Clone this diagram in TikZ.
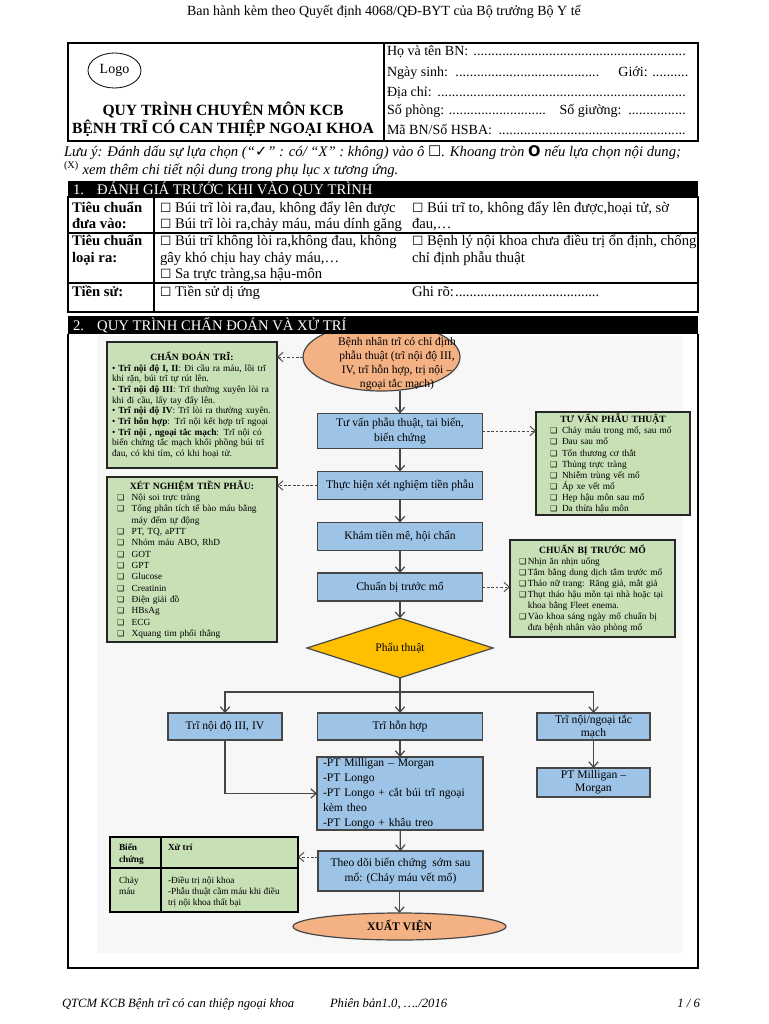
\documentclass[tikz,border=0pt]{standalone}
\usepackage{fontspec}
\setmainfont{Liberation Serif}
\newfontfamily\sym{DejaVu Sans}
\usetikzlibrary{shapes.geometric,arrows.meta}
\definecolor{fblue}{RGB}{157,195,230}
\definecolor{fgreen}{RGB}{199,224,182}
\definecolor{forange}{RGB}{244,177,131}
\definecolor{fgold}{RGB}{255,192,0}
\definecolor{lgray}{RGB}{70,70,70}
\newcommand{\fs}[2]{\fontsize{#1}{#2}\selectfont}
\newcommand{\cb}{{\sym\fontsize{6}{6}\selectfont ❑}}
\newcommand{\tb}{{\sym\fontsize{9.5}{9.5}\selectfont ☐}}
\newcommand{\dfill}{\leaders\hbox to 2.7pt{\hss.\hss}\hfill}
\newcommand{\ci}[1]{\makebox[#1][l]{\cb}}
\newcommand{\cn}[1]{\makebox[#1][l]{}}
\newcommand{\gtitle}[1]{\makebox[\hsize]{\bfseries #1}}
\begin{document}
\begin{tikzpicture}[x=0.75pt,y=-0.75pt,
  every node/.style={inner sep=0pt,outer sep=0pt},
  frame/.style={draw=black,line width=0.8pt},
  sz/.style n args={2}{minimum width=#1*0.75pt,minimum height=#2*0.75pt},
  flow/.style={draw=lgray,fill=fblue,line width=0.9pt,align=center,font=\fs{8.7}{11.2}},
  gbox/.style={draw=black!85,fill=fgreen,line width=1pt},
  conn/.style={draw=lgray,line width=0.9pt,-{Straight Barb[length=4pt,width=7pt]}},
  plain/.style={draw=lgray,line width=0.9pt},
  dconn/.style={draw=lgray,line width=0.7pt,dash pattern=on 2pt off 1.3pt,-{Straight Barb[length=4pt,width=7pt]}},
  txt/.style={anchor=base west,font=\fs{10.5}{12}},
  ttxt/.style={anchor=base west,font=\fs{11}{12}},
  btxt/.style={anchor=base west,font=\bfseries\fs{11}{12}},
  gtxt/.style={anchor=base west,font=\fs{7}{8}},
]
\useasboundingbox (0,0) rectangle (768,1024);
\fill[white] (0,0) rectangle (768,1024);

% ---------- top header ----------
\node[anchor=base,font=\fs{10.5}{12}] (topline) at (384,16) {Ban hành kèm theo Quyết định 4068/QĐ-BYT của Bộ trưởng Bộ Y tế};
\draw[frame] (68,43) rectangle (698,141);
\draw[frame] (384,43) -- (384,141);
\node[ellipse,draw,line width=0.6pt,sz={53}{35},font=\fs{10.5}{12}] (logo) at (114.5,70.5) {Logo};
\node[align=center,font=\bfseries\fs{11.7}{13.5}] (title) at (223,119) {QUY TRÌNH CHUYÊN MÔN KCB\\BỆNH TRĨ CÓ CAN THIỆP NGOẠI KHOA};
\node[txt] (hoten) at (387,56) {\hbox to 226pt{Họ và tên BN: \dfill}};
\node[txt] (ngaysinh) at (387,76) {\hbox to 226pt{Ngày sinh: \dfill\hspace{13pt}Giới: \hbox to 27pt{\dfill}}};
\node[txt] (diachi) at (387,96) {\hbox to 226pt{Địa chỉ: \dfill}};
\node[txt] (sophong) at (387,114) {\hbox to 226pt{Số phòng: \hbox to 74pt{\dfill}\hspace{9pt}Số giường: \dfill}};
\node[txt] (mabn) at (387,134) {\hbox to 226pt{Mã BN/Số HSBA: \dfill}};
\node[txt,font=\itshape\fs{11}{12}] (note1) at (64,156) {Lưu ý: Đánh dấu sự lựa chọn (“{\upshape\sym ✓}” : có/ “X” : không) vào ô {\upshape\sym ☐}. Khoang tròn {\upshape\sym\bfseries O} nếu lựa chọn nội dung;};
\node[txt,font=\itshape\fs{11}{12}] (note2) at (64,174) {\textsuperscript{\upshape(X)} xem thêm chi tiết nội dung trong phụ lục x tương ứng.};

% ---------- section 1 ----------
\node[fill=black,anchor=north west,sz={630}{16}] (sec1) at (68,181) {};
\node[anchor=west,text=white,font=\fs{11}{12}] (sec1t) at (73,189.5) {1.\hspace{0.9em}ĐÁNH GIÁ TRƯỚC KHI VÀO QUY TRÌNH};
\draw[frame] (68,197) rectangle (698,312);
\draw[frame] (68,233) -- (698,233);
\draw[frame] (68,283) -- (698,283);
\draw[frame] (154,197) -- (154,312);
\node[btxt] (r1a) at (72,212) {Tiêu chuẩn};
\node[btxt] (r1b) at (72,228) {đưa vào:};
\node[ttxt] (r1c) at (160,212) {\tb{} Búi trĩ lòi ra,đau, không đẩy lên được};
\node[ttxt] (r1d) at (160,228) {\tb{} Búi trĩ lòi ra,chảy máu, máu dính găng};
\node[ttxt] (r1e) at (412,212) {\tb{} Búi trĩ to, không đẩy lên được,hoại tử, sờ};
\node[ttxt] (r1f) at (412,228) {đau,…};
\node[btxt] (r2a) at (72,245) {Tiêu chuẩn};
\node[btxt] (r2b) at (72,262) {loại ra:};
\node[ttxt] (r2c) at (160,245) {\tb{} Búi trĩ không lòi ra,không đau, không};
\node[ttxt] (r2d) at (160,262) {gây khó chịu hay chảy máu,…};
\node[ttxt] (r2e) at (160,278) {\tb{} Sa trực tràng,sa hậu-môn};
\node[ttxt] (r2f) at (412,245) {\tb{} Bệnh lý nội khoa chưa điều trị ổn định, chống};
\node[ttxt] (r2g) at (412,262) {chỉ định phẫu thuật};
\node[btxt] (r3a) at (72,296) {Tiền sử:};
\node[ttxt] (r3b) at (160,296) {\tb{} Tiền sử dị ứng};
\node[ttxt] (r3c) at (412,296) {\hbox to 143pt{Ghi rõ:\dfill}};

% ---------- section 2 flowchart ----------
\fill[black!3] (97,336) rectangle (683,953);

\node[ellipse,draw=lgray,fill=forange,line width=0.9pt,sz={157}{68}] (start) at (381.5,357) {};
\node[align=center,font=\fs{8.7}{10.5}] (starttxt) at (397,364) {Bệnh nhân trĩ có chỉ định\\phẫu thuật (trĩ nội độ III,\\IV, trĩ hỗn hợp, trị nội –\\ngoại tắc mạch)};
\node[flow,sz={165}{35}] (tuvan) at (400,431) {Tư vấn phẫu thuật, tai biến,\\biến chứng};
\node[flow,sz={165}{28}] (thuchien) at (400,485.5) {Thực hiện xét nghiệm tiền phẫu};
\node[flow,sz={165}{28}] (kham) at (400,536.5) {Khám tiền mê, hội chẩn};
\node[flow,sz={165}{28}] (chuanbi) at (400,587) {Chuẩn bị trước mổ};
\node[diamond,draw=lgray,fill=fgold,line width=0.9pt,sz={186}{50},font=\fs{8.7}{11}] (phauthuat) at (400,648) {Phẩu thuật};
\coordinate (br) at (400,692);
\node[flow,sz={114}{27}] (tri1) at (225,726.5) {Trĩ nội độ III, IV};
\node[flow,sz={165}{27}] (tri2) at (400,726.5) {Trĩ hỗn hợp};
\node[flow,sz={113}{27},font=\fs{8.7}{9.8}] (tri3) at (593.5,726.5) {Trĩ nội/ngoại tắc\\mạch};
\node[flow,sz={166}{73},align=left,text width=115.5pt] (big) at (400,793.5) {-PT Milligan – Morgan\\-PT Longo\\-PT Longo + cắt búi trĩ ngoại\\kèm theo\\-PT Longo + khâu treo};
\node[flow,sz={113}{29},font=\fs{8.7}{10}] (ptmm) at (593.5,782.5) {PT Milligan –\\Morgan};
\node[flow,sz={165}{40},font=\fs{8.7}{11.5}] (theodoi) at (400.5,871) {Theo dõi biến chứng\ \ sớm sau\\mổ: (Chảy máu vết mổ)};
\node[ellipse,draw=lgray,fill=forange,line width=0.9pt,sz={213}{27},font=\bfseries\fs{8.7}{10}] (xv) at (399.5,926.5) {XUẤT VIỆN};

% green boxes
\node[gbox,sz={170}{126},anchor=north west,align=left,text width=120pt,font=\fs{7}{8}] (chandoan) at (107,342) {%
\gtitle{\fs{7.2}{8}CHẨN ĐOÁN TRĨ:}\\
• \textbf{Trĩ nội độ I, II}: Đi cầu ra máu, lồi trĩ\\
khi rặn, búi trĩ tự rút lên.\\
• \textbf{Trĩ nội độ III}: Trĩ thường xuyên lòi ra\\
khi đi cầu, lấy tay đẩy lên.\\
• \textbf{Trĩ nội độ IV}: Trĩ lòi ra thường xuyên.\\
• \textbf{Trĩ hỗn hợp}: Trĩ nội kết hợp trĩ ngoại\\
• \textbf{Trĩ nội , ngoại tắc mạch}: Trĩ nội có\\
biến chứng tắc mạch khối phồng búi trĩ\\
đau, có khi tím, có khi hoại tử.};

\node[gbox,sz={170}{165},anchor=north west,align=left,text width=112.5pt,font=\fs{7}{8.5}] (xetnghiem) at (107,477) {%
\gtitle{\fs{7.2}{8.5}XÉT NGHIỆM TIỀN PHẪU:}\\
\ci{11pt}Nội soi trực tràng\\
\ci{11pt}Tổng phân tích tế bào máu bằng\\
\cn{11pt}máy đếm tự động\\
\ci{11pt}PT, TQ, aPTT\\
\ci{11pt}Nhóm máu ABO, RhD\\
\ci{11pt}GOT\\
\ci{11pt}GPT\\
\ci{11pt}Glucose\\
\ci{11pt}Creatinin\\
\ci{11pt}Điện giải đồ\\
\ci{11pt}HBsAg\\
\ci{11pt}ECG\\
\ci{11pt}Xquang tim phổi thẳng};

\node[gbox,sz={154}{103},anchor=north west,align=left,text width=94.5pt,font=\fs{7}{8.3}] (tuvanbox) at (536,412) {%
\gtitle{\fs{7.2}{8.3}TƯ VẤN PHẪU THUẬT}\\
\ci{9pt}Chảy máu trong mổ, sau mổ\\
\ci{9pt}Đau sau mổ\\
\ci{9pt}Tổn thương cơ thắt\\
\ci{9pt}Thủng trực tràng\\
\ci{9pt}Nhiễm trùng vết mổ\\
\ci{9pt}Áp xe vết mổ\\
\ci{9pt}Hẹp hậu môn sau mổ\\
\ci{9pt}Da thừa hậu môn};

\node[gbox,sz={165}{97},anchor=north west,align=left,text width=110pt,font=\fs{7}{8.3}] (cbbox) at (510,540) {%
\gtitle{\fs{7.2}{8.3}CHUẨN BỊ TRƯỚC MỔ}\\
\ci{6.5pt}Nhịn ăn nhịn uống\\
\ci{6.5pt}Tắm bằng dung dịch tắm trước mổ\\
\ci{6.5pt}Tháo nữ trang: Răng giả, mắt giả\\
\ci{6.5pt}Thụt tháo hậu môn tại nhà hoặc tại\\
\cn{6.5pt}khoa bằng Fleet enema.\\
\ci{6.5pt}Vào khoa sáng ngày mổ chuẩn bị\\
\cn{6.5pt}đưa bệnh nhân vào phòng mổ};

% complication table
\node[draw=black,fill=fgreen,line width=1.3pt,anchor=north west,sz={188}{75}] (cx) at (110,837) {};
\draw[black,line width=1.3pt] (161,837) -- (161,912);
\draw[black,line width=1.3pt] (110,868) -- (298,868);
\node[gtxt,font=\bfseries\fs{7}{8}] (cx1) at (119,850) {Biến};
\node[gtxt,font=\bfseries\fs{7}{8}] (cx2) at (119,862) {chứng};
\node[gtxt,font=\bfseries\fs{7}{8}] (cx3) at (168,850) {Xử trí};
\node[gtxt] (cx4) at (119,883) {Chảy};
\node[gtxt] (cx5) at (119,894) {máu};
\node[gtxt] (cx6) at (168,883) {-Điều trị nội khoa};
\node[gtxt] (cx7) at (168,894) {-Phẫu thuật cầm máu khi điều};
\node[gtxt] (cx8) at (168,905) {trị nội khoa thất bại};

% connectors
\draw[conn] (tuvan.north |- start.south) -- (tuvan.north);
\draw[conn] (tuvan) -- (thuchien);
\draw[conn] (thuchien) -- (kham);
\draw[conn] (kham) -- (chuanbi);
\draw[conn] (chuanbi) -- (phauthuat);
\draw[plain] (phauthuat.south) -- (br);
\draw[conn] (br) -| (tri1.north);
\draw[conn] (br) -| (tri3.north);
\draw[conn] (br) -- (tri2.north);
\draw[conn] (tri2) -- (big);
\draw[conn] (tri3) -- (ptmm);
\draw[conn] (tri1.south) |- (big.west);
\draw[conn] (big) -- (theodoi);
\draw[conn] (theodoi.south -| xv.north) -- (xv.north);
\draw[dconn] (start.west) -- (chandoan.east |- start.west);
\draw[dconn] (thuchien.west) -- (xetnghiem.east |- thuchien.west);
\draw[dconn] (tuvan.east) -- (tuvanbox.west |- tuvan.east);
\draw[dconn] (chuanbi.east) -- (cbbox.west |- chuanbi.east);
\coordinate (td) at (318,857);
\draw[dconn] (td) -- (cx.east |- td);

% section 2 bar and frame
\node[fill=black,anchor=north west,sz={630}{18}] (sec2) at (68,316) {};
\node[anchor=west,text=white,font=\fs{11}{12}] (sec2t) at (73,325.5) {2.\hspace{0.9em}QUY TRÌNH CHẨN ĐOÁN VÀ XỬ TRÍ};
\draw[frame] (68,334) -- (68,968) -- (698,968) -- (698,334);

% footer
\node[anchor=base west,font=\itshape\fs{9.5}{11}] (f1) at (62,1007) {QTCM KCB Bệnh trĩ có can thiệp ngoại khoa};
\node[anchor=base west,font=\itshape\fs{9.5}{11}] (f2) at (330,1007) {Phiên bản1.0, …./2016};
\node[anchor=base east,font=\itshape\fs{9.5}{11}] (f3) at (700,1007) {1 / 6};
\end{tikzpicture}
\end{document}
